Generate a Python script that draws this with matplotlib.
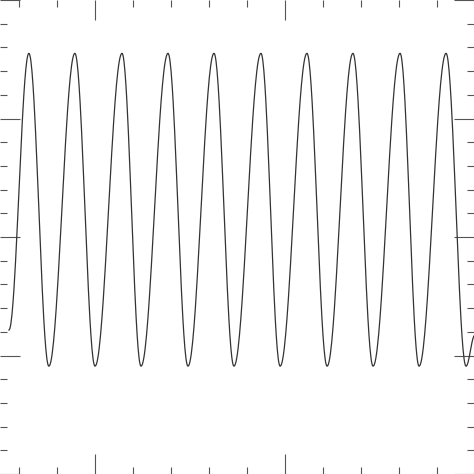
import numpy as np
import matplotlib
matplotlib.use("Agg")
import matplotlib.pyplot as plt
from matplotlib.ticker import MultipleLocator

# extrema (x in major-tick units, y in major-tick units)
peak_x = [-0.346, -0.104, 0.144, 0.386, 0.628, 0.875, 1.117, 1.359, 1.607, 1.849]
trough_x = [-0.241, 0.002, 0.244, 0.491, 0.733, 0.976, 1.223, 1.465, 1.707, 1.954]
peak_y = 2.55
trough_y = -0.09
start_pt = (-0.451, 0.215)
end_pt = (2.0, 0.17)

knots = [start_pt]
knots += sorted([(x, peak_y) for x in peak_x] + [(x, trough_y) for x in trough_x])
knots.append(end_pt)

xs, ys = [], []
for (x0, y0), (x1, y1) in zip(knots[:-1], knots[1:]):
    t = np.linspace(0, 1, 40)
    xs.append(x0 + (x1 - x0) * t)
    ys.append(y0 + (y1 - y0) * (1 - np.cos(np.pi * t)) / 2)
xs = np.concatenate(xs)
ys = np.concatenate(ys)

fig = plt.figure(figsize=(4.74, 4.74), dpi=100)
ax = fig.add_axes([0, 0, 1, 1])
ax.plot(xs, ys, color="#333333", lw=0.9)
ax.set_xlim(-0.498, 1.996)
ax.set_ylim(-1.0, 3.0)
for s in ax.spines.values():
    s.set_visible(False)
ax.xaxis.set_major_locator(MultipleLocator(1))
ax.xaxis.set_minor_locator(MultipleLocator(0.2))
ax.yaxis.set_major_locator(MultipleLocator(1))
ax.yaxis.set_minor_locator(MultipleLocator(0.2))
ax.tick_params(which="both", direction="in", top=True, bottom=True, left=True, right=True,
               labelbottom=False, labelleft=False, color="#555555", width=0.8)
ax.tick_params(which="major", length=14.5)
ax.tick_params(which="minor", length=5)
fig.savefig("out.png", dpi=100)
